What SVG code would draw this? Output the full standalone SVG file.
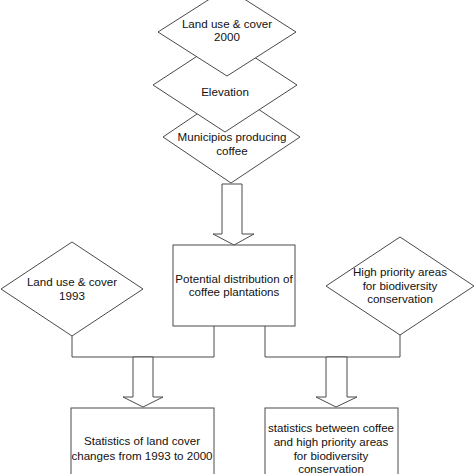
<svg xmlns="http://www.w3.org/2000/svg" width="474" height="474" viewBox="0 0 474 474">
<style>
.s{fill:#fff;stroke:#4a4a4a;stroke-width:1}
.c{fill:none;stroke:#4a4a4a;stroke-width:1}
text{font-family:"Liberation Sans",Arial,sans-serif;font-size:11.6px;fill:#111;text-anchor:middle}
</style>
<rect width="474" height="474" fill="#fff"/>
<g id="n-municipios">
<polygon class="s" points="231,91 300,137 231,183 163,137"/>
<text x="232" y="141">Municipios producing</text>
<text x="232" y="155">coffee</text>
</g>
<g id="n-elevation">
<polygon class="s" points="225,38 297,85 225,132 153,85"/>
<text x="225" y="96">Elevation</text>
</g>
<g id="n-land2000">
<polygon class="s" points="227,-12 296,32 227,76 158,32"/>
<text x="227" y="28">Land use &amp; cover</text>
<text x="227" y="41">2000</text>
</g>
<g id="n-land1993">
<polygon class="s" points="72,242 143,289 72,336 1,289"/>
<text x="72" y="286">Land use &amp; cover</text>
<text x="72" y="300">1993</text>
</g>
<g id="n-potential">
<rect class="s" x="173" y="245" width="122" height="81"/>
<text x="234" y="283">Potential distribution of</text>
<text x="234" y="296">coffee plantations</text>
</g>
<g id="n-priority">
<polygon class="s" points="400,237 474,286 400,335 326,286"/>
<text x="400" y="276">High priority areas</text>
<text x="400" y="290">for biodiversity</text>
<text x="400" y="303">conservation</text>
</g>
<g id="n-stats-land">
<rect class="s" x="71" y="408" width="143" height="80"/>
<text x="142" y="445">Statistics of land cover</text>
<text x="142" y="460">changes from 1993 to 2000</text>
</g>
<g id="n-stats-coffee">
<rect class="s" x="265" y="408" width="133" height="80"/>
<text x="331" y="432">statistics between coffee</text>
<text x="331" y="446">and high priority areas</text>
<text x="331" y="460">for biodiversity</text>
<text x="331" y="473">conservation</text>
</g>
<g id="connectors">
<polygon class="s" points="222,184 242,184 242,234 254,234 234,245 213,234 222,234"/>
<polyline class="c" points="72,336 72,357 214,357 214,326"/>
<polyline class="c" points="265,326 265,357 400,357 400,335"/>
<polygon class="s" points="133,357 153,357 153,397 163,397 143,407 123,397 133,397"/>
<polygon class="s" points="326,357 347,357 347,397 357,397 336,407 316,397 326,397"/>
</g>
</svg>
